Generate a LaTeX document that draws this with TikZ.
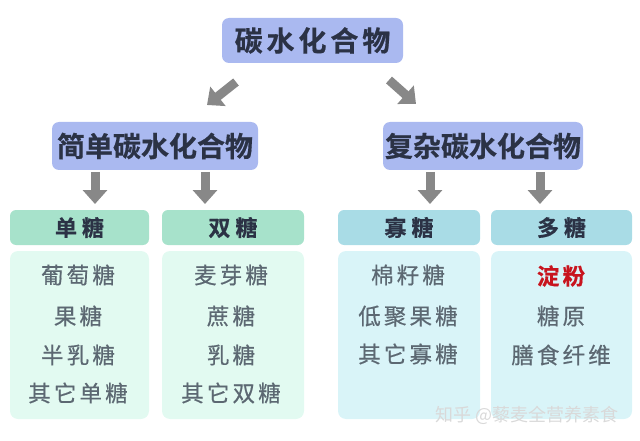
\documentclass[tikz,border=0pt]{standalone}
\usepackage{fontspec}
\setmainfont{Noto Sans CJK SC}
\newfontfamily\cjkb{Noto Sans CJK SC Bold}[FakeBold=0.6]
\newfontfamily\cjkm{Noto Sans CJK SC}[FakeBold=0.5,LetterSpace=14]
\usetikzlibrary{arrows.meta}
\definecolor{topbox}{HTML}{AAB9F0}
\definecolor{topfg}{HTML}{2B3245}
\definecolor{ghead}{HTML}{A7E2CB}
\definecolor{gbody}{HTML}{E2FAF1}
\definecolor{bhead}{HTML}{A9DCE6}
\definecolor{bbody}{HTML}{D9F4F8}
\definecolor{itemfg}{HTML}{5C6872}
\definecolor{arrowc}{HTML}{888888}
\definecolor{redfg}{HTML}{C8141E}
\tikzset{
  catbox/.style={fill=topbox, rounded corners=7pt, inner sep=0pt, text=topfg, font=\cjkb\fontsize{28}{32}\selectfont},
  headbox/.style={rounded corners=6pt, inner sep=0pt, text=topfg, font=\cjkb\fontsize{22}{26}\selectfont},
  bodybox/.style={rounded corners=8pt, inner sep=0pt},
  itemtxt/.style={text=itemfg, font=\cjkm\fontsize{22.5}{26}\selectfont},
  blockarrow/.style={draw=arrowc, line width=9pt, -{Triangle[width=24pt,length=14pt]}},
}
\begin{document}
\begin{tikzpicture}[x=1pt,y=-1pt]
\useasboundingbox (0,0) rectangle (640,441);
% top
\node[catbox, minimum width=181pt, minimum height=45pt] (top) at (312.5,40.5) {\addfontfeature{LetterSpace=14}碳水化合物};
% second row
\node[catbox, minimum width=206pt, minimum height=48pt] (simple) at (155,146) {简单碳水化合物};
\node[catbox, minimum width=200pt, minimum height=48pt] (complex) at (483,146) {复杂碳水化合物};
% diagonal arrows
\coordinate (a1s) at (236,82); \coordinate (a1e) at (207,105);
\coordinate (a2s) at (389,80); \coordinate (a2e) at (416,104);
\draw[blockarrow] (a1s) -- (a1e);
\draw[blockarrow] (a2s) -- (a2e);
% headers
\node[headbox, fill=ghead, minimum width=139pt, minimum height=35pt] (h1) at (79.5,227.5) {单\hspace{5pt}糖};
\node[headbox, fill=ghead, minimum width=142pt, minimum height=35pt] (h2) at (233,227.5) {双\hspace{5pt}糖};
\node[headbox, fill=bhead, minimum width=142pt, minimum height=35pt] (h3) at (409,227.5) {寡\hspace{5pt}糖};
\node[headbox, fill=bhead, minimum width=141pt, minimum height=35pt] (h4) at (561.5,227.5) {多\hspace{5pt}糖};
% down arrows
\coordinate (d1s) at (95,172); \coordinate (d1e) at (95,204);
\coordinate (d2s) at (205,172); \coordinate (d2e) at (205,204);
\coordinate (d3s) at (430,172); \coordinate (d3e) at (430,204);
\coordinate (d4s) at (540,172); \coordinate (d4e) at (540,204);
\foreach \s/\e in {d1s/d1e,d2s/d2e,d3s/d3e,d4s/d4e}
  \draw[blockarrow] (\s) -- (\e);
% bodies
\node[bodybox, fill=gbody, minimum width=139pt, minimum height=168pt] (b1) at (79.5,335) {};
\node[bodybox, fill=gbody, minimum width=142pt, minimum height=168pt] (b2) at (233,335) {};
\node[bodybox, fill=bbody, minimum width=142pt, minimum height=168pt] (b3) at (409,335) {};
\node[bodybox, fill=bbody, minimum width=141pt, minimum height=168pt] (b4) at (561.5,335) {};
% items
\node[itemtxt] (i11) at (78,275) {葡萄糖};
\node[itemtxt] (i12) at (78,316) {果糖};
\node[itemtxt] (i13) at (78,355) {半乳糖};
\node[itemtxt] (i14) at (78,393) {其它单糖};
\node[itemtxt] (i21) at (231,275) {麦芽糖};
\node[itemtxt] (i22) at (231,316) {蔗糖};
\node[itemtxt] (i23) at (231,355) {乳糖};
\node[itemtxt] (i24) at (231,393) {其它双糖};
\node[itemtxt] (i31) at (408,275) {棉籽糖};
\node[itemtxt] (i32) at (408,316) {低聚果糖};
\node[itemtxt] (i33) at (408,354) {其它寡糖};
\node[itemtxt, text=redfg, font=\cjkb\fontsize{22.5}{26}\selectfont\addfontfeature{LetterSpace=14}] (i41) at (561,276) {淀粉};
\node[itemtxt] (i42) at (561,316) {糖原};
\node[itemtxt] (i43) at (561,355) {膳食纤维};
% watermark
\node[text=white!70!gray, font=\fontsize{18}{20}\selectfont] (wm) at (527,415) {知乎 @藜麦全营养素食};
\end{tikzpicture}
\end{document}
